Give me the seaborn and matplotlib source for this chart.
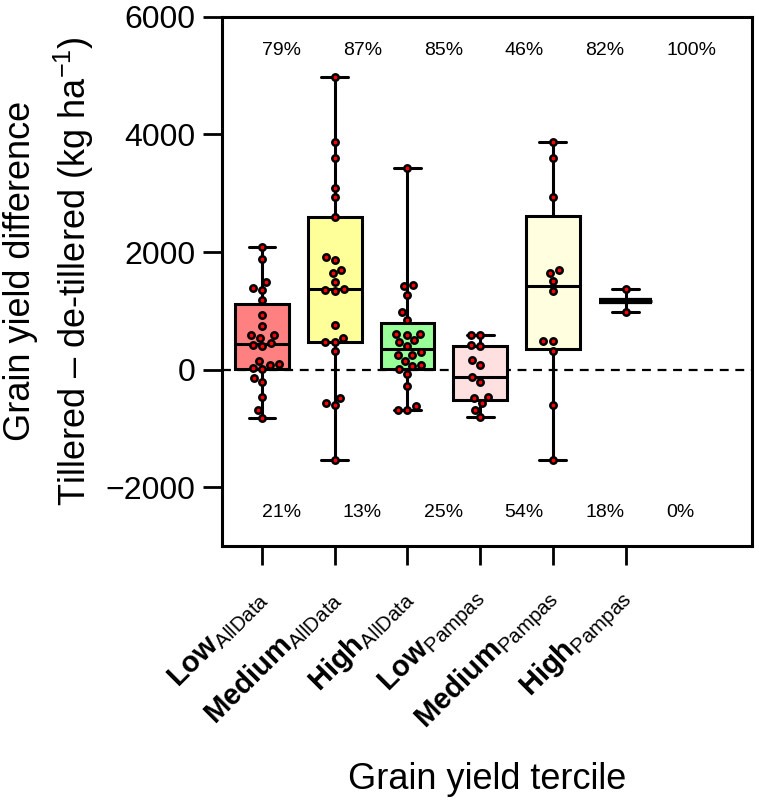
import numpy as np
import pandas as pd
import matplotlib
matplotlib.use('Agg')
import matplotlib.pyplot as plt
import seaborn as sns

# values (kg/ha, tillered minus de-tillered)
categories = ['Low AllData', 'Medium AllData', 'High AllData',
              'Low Pampas', 'Medium Pampas', 'High Pampas']
tick_labels = [r'$\mathbf{Low}_{\mathrm{AllData}}$',
               r'$\mathbf{Medium}_{\mathrm{AllData}}$',
               r'$\mathbf{High}_{\mathrm{AllData}}$',
               r'$\mathbf{Low}_{\mathrm{Pampas}}$',
               r'$\mathbf{Medium}_{\mathrm{Pampas}}$',
               r'$\mathbf{High}_{\mathrm{Pampas}}$']

low_alldata = [2086, 1882, 1484, 1382, 1348, 1185, 935, 748, 590, 583, 544, 450,
               420, 396, 153, 97, 85, 29, 10, -136, -216, -471, -680, -816]
medium_alldata = [4976, 3871, 3599, 3089, 2930, 2590, 1916, 1858, 1688, 1643, 1496,
                  1372, 1348, 1338, 753, 539, 476, 476, 318, -481, -566, -600, -1535]
high_alldata = [3430, 1445, 1416, 1275, 975, 850, 612, 612, 583, 498, 470, 396,
                294, 255, 255, 153, 85, 56, 5, -73, -272, -612, -680, -680]
low_pampas = [595, 595, 413, 396, 158, 85, -131, -216, -464, -481, -566, -680, -811]
medium_pampas = [3876, 3599, 2930, 1688, 1643, 1501, 1343, 493, 493, 311, -607, -1542]
high_pampas = [1377, 975]

pct_positive = ['79%', '87%', '85%', '46%', '82%', '100%']
pct_negative = ['21%', '13%', '25%', '54%', '18%', '0%']

groups = [low_alldata, medium_alldata, high_alldata, low_pampas, medium_pampas, high_pampas]
df = pd.DataFrame({
    'tercile': np.repeat(categories, [len(g) for g in groups]),
    'diff': np.concatenate(groups),
})

box_colors = ['#ff8080', '#ffff99', '#99ff99', '#ffe0e0', '#ffffe0', '#ffffff']

sns.set_style('white')
plt.rcParams['font.family'] = ['Liberation Sans', 'DejaVu Sans']
plt.rcParams['mathtext.fontset'] = 'custom'
plt.rcParams['mathtext.rm'] = 'Liberation Sans'
plt.rcParams['mathtext.bf'] = 'Liberation Sans:bold'
for key in ['text.color', 'axes.labelcolor', 'xtick.color', 'ytick.color']:
    plt.rcParams[key] = 'black'

fig = plt.figure(figsize=(7.59, 8.06), dpi=100)
ax = fig.add_axes([0.2925, 0.3226, 0.6983, 0.6564])

ax.axhline(0, color='black', linewidth=1.6, linestyle=(0, (4, 3)), zorder=0.5)

# Prism style quartiles ((n+1)p); with too few values the box sits on the median
_percentile = np.percentile


def prism_percentile(a, q, **kwargs):
    a = np.asarray(a)
    q = np.asarray(q, dtype=float)
    out = _percentile(a, q, method='weibull')
    if a.size < 3:
        out = np.where((q > 0) & (q < 100), np.median(a), out)
    return out


np.percentile = prism_percentile
sns.boxplot(data=df, x='tercile', y='diff', hue='tercile', order=categories,
            hue_order=categories, palette=box_colors, saturation=1, legend=False,
            width=0.74, linewidth=2.2, linecolor='black', whis=(0, 100),
            showfliers=False, ax=ax)
np.percentile = _percentile

# the collapsed High Pampas box shows as a heavy bar
for line in ax.lines:
    y = np.asarray(line.get_ydata(), dtype=float)
    if y.size == 2 and np.allclose(y, np.median(high_pampas)):
        line.set_linewidth(4.5)

sns.swarmplot(data=df, x='tercile', y='diff', order=categories, color='red',
              size=4.6, edgecolor='black', linewidth=1.8, zorder=3, ax=ax)

for i in range(len(categories)):
    ax.text(i * 1.112, 5430, pct_positive[i], fontsize=14, ha='left', va='center')
    ax.text(i * 1.112, -2430, pct_negative[i], fontsize=14, ha='left', va='center')

ax.set_xlim(-0.55, 6.74)
ax.set_ylim(-3000, 6000)
ax.set_yticks([-2000, 0, 2000, 4000, 6000])
ax.set_xticks(range(len(categories)))
ax.set_xticklabels(tick_labels, rotation=45, ha='right', va='center',
                   rotation_mode='anchor', fontsize=21)
ax.tick_params(axis='y', labelsize=23, length=14, width=2, direction='out',
               left=True, pad=5)
ax.tick_params(axis='x', length=14, width=2, direction='out', bottom=True, pad=20)

for side in ['top', 'bottom', 'left', 'right']:
    ax.spines[side].set_visible(True)
    ax.spines[side].set_linewidth(2.2)
    ax.spines[side].set_color('black')

ax.set_xlabel('Grain yield tercile', fontsize=26, va='top')
ax.xaxis.set_label_coords(0.5, -0.408)
ax.set_ylabel('Grain yield difference\nTillered \u2013 de-tillered (kg ha$^{-1}$)',
              fontsize=26, linespacing=1.39)
ax.yaxis.set_label_coords(-0.238, 0.52)

fig.savefig('out.png', dpi=100)
